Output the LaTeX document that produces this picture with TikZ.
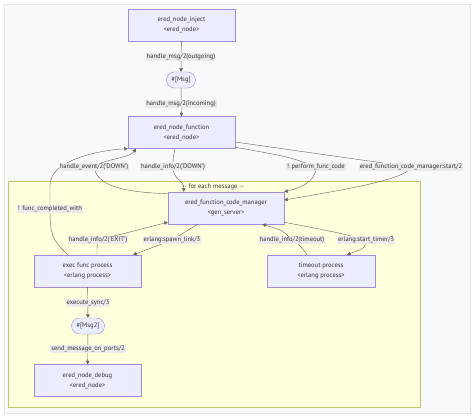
\documentclass[tikz,border=0pt]{standalone}
\usepackage{fontspec}
\setmainfont{PT Sans}
\usetikzlibrary{arrows.meta}
\definecolor{nodefill}{HTML}{ECECFF}
\definecolor{nodeline}{HTML}{A48ADF}
\definecolor{clusterfill}{HTML}{FFFFDE}
\definecolor{clusterline}{HTML}{C4C46A}
\definecolor{pagefill}{HTML}{F8F9FA}
\definecolor{pageline}{HTML}{E4E4E4}
\definecolor{txt}{HTML}{333333}
\begin{document}
\begin{tikzpicture}[x=1pt,y=-1pt,
    font=\fontsize{6.6}{10}\selectfont,
    procbox/.style={draw=nodeline, fill=nodefill, line width=0.45pt, minimum height=32pt,
      align=center, text=txt, inner sep=0pt},
    msgpill/.style={draw=nodeline, fill=nodefill, line width=0.45pt, rounded corners=8pt,
      minimum height=16pt, inner sep=0pt, text=txt},
    edgelabel/.style={fill=black!8, inner sep=1pt, text=txt},
    edgeline/.style={draw=black!62, line width=0.4pt, -{Triangle[length=3.5pt,width=3.5pt]}}]
    \useasboundingbox (0,0) rectangle (474,417);
    {
    % Drawing page and loop cluster
    \draw [fill=pagefill, draw=pageline, line width=0.5pt] (4,4) rectangle (470,413);%
    \draw [fill=clusterfill, draw=clusterline, line width=0.45pt] (8,181) rectangle (420,407);%
    \node [text=txt] (loop) at (213,187) {-{}- for each message -{}-};%

    % Drawing nodes
    \node [procbox, minimum width=107pt] (inject) at (181.5,25) {ered\_node\_inject\\<ered\_node>};%
    \node [msgpill, minimum width=29pt] (msg) at (181,80) {\#[Msg]};%
    \node [procbox, minimum width=107pt] (fn) at (181.5,132.5) {ered\_node\_function\\<ered\_node>};%
    \node [procbox, minimum width=116pt] (mgr) at (226,208) {ered\_function\_code\_manager\\<gen\_server>};%
    \node [procbox, minimum width=107pt] (exec) at (87.5,271) {exec func process\\<erlang process>};%
    \node [procbox, minimum width=108pt] (tmo) at (321,271) {timeout process\\<erlang process>};%
    \node [msgpill, minimum width=33pt] (msgtwo) at (88,326) {\#[Msg2]};%
    \node [procbox, minimum width=107pt] (debug) at (87.5,380.5) {ered\_node\_debug\\<ered\_node>};%

    % Label positions
    \coordinate (coutgoing) at (181,57);%
    \coordinate (cincoming) at (181,104);%
    \coordinate (cstart) at (411,167);%
    \coordinate (cperform) at (316,167);%
    \coordinate (cinfodown) at (173,167);%
    \coordinate (ceventdown) at (94,167);%
    \coordinate (ccompleted) at (50,209);%
    \coordinate (cexit) at (98,240);%
    \coordinate (cspawn) at (172,240);%
    \coordinate (ctimeout) at (292,240);%
    \coordinate (ctimer) at (366,240);%
    \coordinate (csync) at (88,303);%
    \coordinate (cports) at (88,349);%

    % Drawing edges inject msg fn
    \draw [edgeline] (inject) -- (msg);%
    \draw [edgeline] (msg) -- (fn);%

    % Drawing edges fn mgr
    \draw [edgeline] ([yshift=-9.5pt]fn.east) -- (cstart) .. controls (408,180) and (330,192) .. ([yshift=8pt]mgr.east);%
    \draw [edgeline] ([yshift=1.5pt]fn.south east) .. controls (290,157) .. (cperform) .. controls (316,182) and (300,188) .. (mgr.north east);%
    \draw [edgeline] ([xshift=-6.5pt]fn.south) .. controls (173,158) .. (cinfodown) .. controls (173,180) and (184,180) .. ([xshift=16pt]mgr.north west);%

    % Drawing edges back to fn
    \draw [edgeline] ([yshift=-2pt]mgr.north west) .. controls (120,192) and (97,185) .. (ceventdown) .. controls (100,160) and (130,158) .. ([xshift=-45.5pt]fn.south);%
    \draw [edgeline] ([xshift=-19.5pt]exec.north) .. controls (52,240) and (50,235) .. (ccompleted) -- (50,185) .. controls (50,160) and (100,150) .. (fn.south west);%

    % Drawing edges mgr exec tmo
    \draw [edgeline] ([xshift=9.5pt]exec.north) .. controls (97,245) .. (cexit) .. controls (130,232) .. ([yshift=2pt]mgr.south west);%
    \draw [edgeline] ([xshift=30pt]mgr.south west) .. controls (185,232) .. (cspawn) .. controls (155,247) .. ([xshift=-8pt]exec.north east);%
    \draw [edgeline] ([xshift=-14pt]tmo.north) .. controls (300,245) .. (ctimeout) .. controls (282,230) .. ([xshift=-22pt]mgr.south east);%
    \draw [edgeline] ([yshift=2pt]mgr.south east) .. controls (340,233) .. (ctimer) .. controls (365,248) .. ([xshift=26pt]tmo.north);%

    % Drawing edges exec msgtwo debug
    \draw [edgeline] (exec) -- (msgtwo);%
    \draw [edgeline] (msgtwo) -- (debug);%

    % Drawing edge labels
    \node [edgelabel] (loutgoing) at (coutgoing) {handle\_msg/2(outgoing)};%
    \node [edgelabel] (lincoming) at (cincoming) {handle\_msg/2(incoming)};%
    \node [edgelabel] (lstart) at (cstart) {ered\_function\_code\_manager:start/2};%
    \node [edgelabel] (lperform) at (cperform) {! perform\_func\_code};%
    \node [edgelabel] (linfodown) at (cinfodown) {handle\_info/2('DOWN')};%
    \node [edgelabel] (leventdown) at (ceventdown) {handle\_event/2('DOWN')};%
    \node [edgelabel] (lcompleted) at (ccompleted) {! func\_completed\_with};%
    \node [edgelabel] (lexit) at (cexit) {handle\_info/2('EXIT')};%
    \node [edgelabel] (lspawn) at (cspawn) {erlang:spawn\_link/3};%
    \node [edgelabel] (ltimeout) at (ctimeout) {handle\_info/2(timeout)};%
    \node [edgelabel] (ltimer) at (ctimer) {erlang:start\_timer/3};%
    \node [edgelabel] (lsync) at (csync) {execute\_sync/3};%
    \node [edgelabel] (lports) at (cports) {send\_message\_on\_ports/2};%
    }
\end{tikzpicture}
\end{document}
